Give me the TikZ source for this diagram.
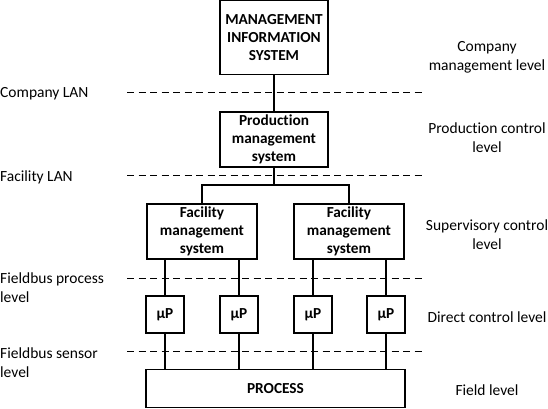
\documentclass[tikz,border=0pt]{standalone}
\usepackage{fontspec}
\setmainfont{Carlito}[Ligatures=NoCommon]
\begin{document}
\begin{tikzpicture}[x=1pt,y=-1pt,
  box/.style={draw, line width=1.7pt, fill=white, font=\bfseries\fontsize{15.3}{18}\selectfont, align=center, inner sep=0pt},
  lvl/.style={font=\fontsize{15.5}{19}\selectfont, align=center, inner sep=0pt},
  lbl/.style={font=\fontsize{15.5}{19}\selectfont, align=left, anchor=west, inner sep=0pt},
  bus/.style={dash pattern=on 7pt off 4.5pt, line width=1.2pt},
  link/.style={line width=1.8pt}]
\useasboundingbox (0,0) rectangle (548,408);
% level buses
\foreach \n/\y in {a/92.5,b/175.5,c/278.5,d/351.5}{
  \coordinate (\n s) at (127,\y);
  \coordinate (\n e) at (423,\y);
  \draw[bus] (\n s) -- (\n e);
}
% boxes
\node[box, minimum width=108, minimum height=74] (mis) at (274,37.5) {MANAGEMENT\\INFORMATION\\SYSTEM};
\node[box, minimum width=108, minimum height=55] (prod) at (274,139.5) {Production\\management\\system};
\node[box, minimum width=110, minimum height=55] (fac1) at (202,231.5) {Facility\\management\\system};
\node[box, minimum width=110, minimum height=55] (fac2) at (349,231.5) {Facility\\management\\system};
\node[box, minimum width=38, minimum height=37] (p1) at (165,314.5) {μP};
\node[box, minimum width=38, minimum height=37] (p2) at (239,314.5) {μP};
\node[box, minimum width=38, minimum height=37] (p3) at (313,314.5) {μP};
\node[box, minimum width=38, minimum height=37] (p4) at (386,314.5) {μP};
\node[box, minimum width=259, minimum height=38] (proc) at (275.5,388.5) {PROCESS};
% connectors
\coordinate (j) at (274,185);
\draw[link] (mis) -- (prod);
\draw[link] (prod.south) -- (j);
\draw[link] (fac1.north) |- (j) -| (fac2.north);
\foreach \p/\f in {p1/fac1,p2/fac1,p3/fac2,p4/fac2}{
  \draw[link] (\p.north |- \f.south) -- (\p.north);
  \draw[link] (\p.south) -- (\p.south |- proc.north);
}
% left labels
\node[lbl] (la) at (0,94) {Company LAN};
\node[lbl] (lb) at (0,177) {Facility LAN};
\node[lbl] (lc) at (0,288) {Fieldbus process\\level};
\node[lbl] (ld) at (0,362.5) {Fieldbus sensor\\level};
% right labels
\node[lvl] (r1) at (487,57.5) {Company\\management level};
\node[lvl] (r2) at (487,138) {Production control\\level};
\node[lvl] (r3) at (487,234.5) {Supervisory control\\level};
\node[lvl] (r4) at (487,317) {Direct control level};
\node[lvl] (r5) at (487,390) {Field level};
\end{tikzpicture}
\end{document}
